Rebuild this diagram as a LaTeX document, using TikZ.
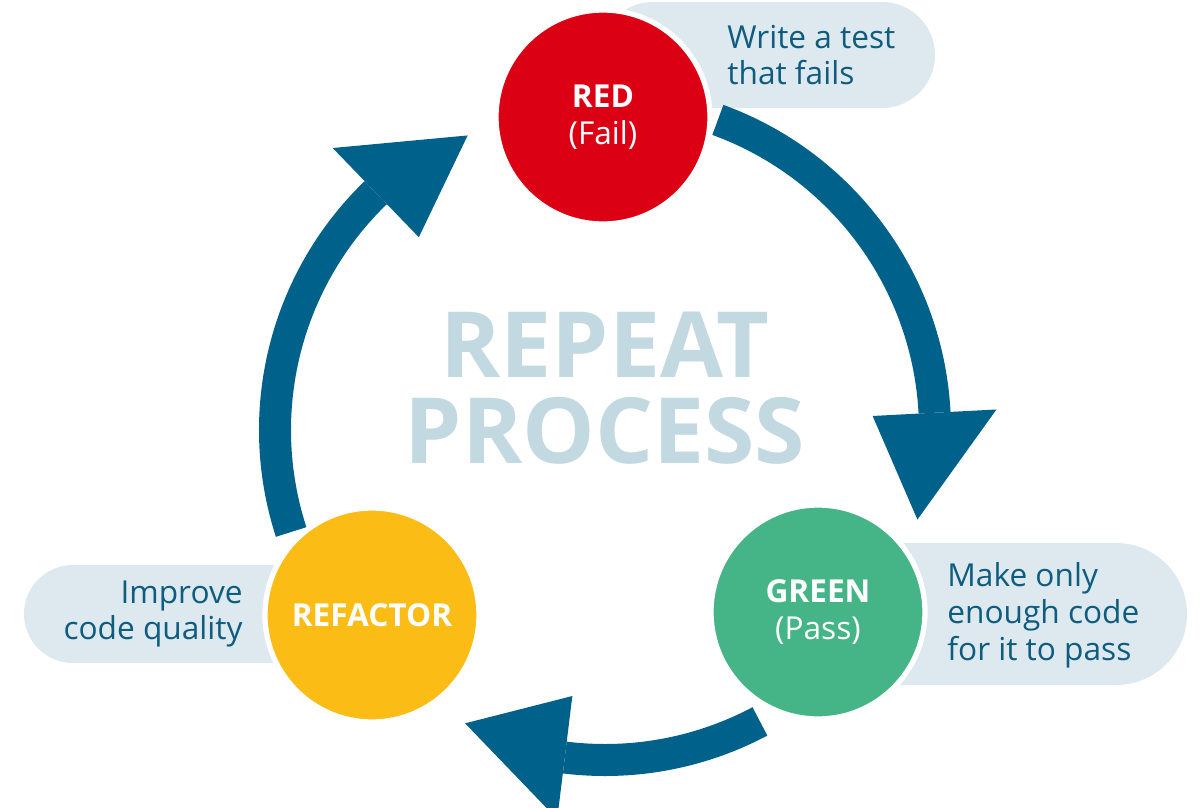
\documentclass[tikz,border=0pt]{standalone}
\usepackage{fontspec}
\setmainfont{Open Sans}
\usetikzlibrary{calc}
\definecolor{tddred}{HTML}{DC0014}
\definecolor{tddgreen}{HTML}{45B587}
\definecolor{tddyellow}{HTML}{FBBC15}
\definecolor{tddblue}{HTML}{00628A}
\definecolor{tddtext}{HTML}{0E5C7E}
\definecolor{tddpill}{HTML}{DDE8EF}
\definecolor{tddwater}{HTML}{C3D9E1}
% arc arrow around the cycle centre: start angle, head base angle, tip angle
\newcommand{\cyclearrow}[3]{%
  \draw[tddblue, line width=0.32cm] ($(C)+(#1:3.3)$) arc[start angle=#1, end angle=#2, radius=3.3];
  \fill[tddblue] ($(C)+(#2:2.68)$) -- ($(C)+(#2:3.92)$) -- ($(C)+(#3:3.25)$) -- cycle;}
\begin{document}
\begin{tikzpicture}[
  phase/.style={circle, minimum size=2.14cm, inner sep=0pt, draw=white, line width=1.5pt, text=white, align=center, font=\fontsize{9}{10.5}\selectfont},
  pill/.style={fill=tddpill, rounded corners=0.53cm},
  note/.style={text=tddtext, font=\fontsize{9}{10.5}\selectfont, align=left}]
  \useasboundingbox (0,0) rectangle (12,-8.08);
  \coordinate (C) at (6.05,-4.3);

  % Notes behind the phases
  \fill[pill] (6.0,-0.02) rectangle (9.35,-1.08);
  \fill[pill, rounded corners=0.71cm] (8.2,-5.43) rectangle (11.87,-6.85);
  \fill[pill, rounded corners=0.49cm] (0.24,-5.65) rectangle (3.8,-6.63);

  % Cycle
  \cyclearrow{70}{3}{-16}
  \cyclearrow{-62}{-97}{-115.5}
  \cyclearrow{198}{134}{115}

  \node[text=tddwater, font=\fontsize{26}{24.5}\selectfont\bfseries, align=center] (repeat) at (6.05,-3.88) {REPEAT\\PROCESS};

  % Phases
  \node[phase, fill=tddred] (red) at (6.03,-1.17) {\textbf{RED}\\(Fail)};
  \node[phase, fill=tddgreen] (green) at (8.18,-6.12) {\textbf{GREEN}\\(Pass)};
  \node[phase, fill=tddyellow] (refactor) at (3.72,-6.15) {\textbf{REFACTOR}};

  \node[note, anchor=west] (failnote) at (7.15,-0.55) {Write a test\\that fails};
  \node[note, anchor=west] (passnote) at (9.35,-6.15) {Make only\\enough code\\for it to pass};
  \node[note, align=right, anchor=east] (refnote) at (2.55,-6.14) {Improve\\code quality};
\end{tikzpicture}
\end{document}
